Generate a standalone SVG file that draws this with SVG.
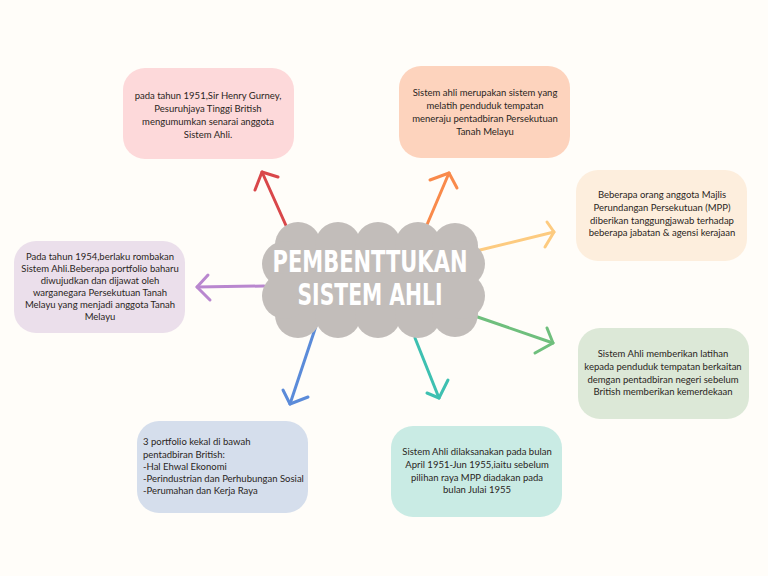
<svg xmlns="http://www.w3.org/2000/svg" width="768" height="576" viewBox="0 0 768 576">
<style>
.bx{stroke:none}
.t{font-family:Lato,"Open Sans",sans-serif;font-size:9.5px;fill:#2a2522;text-anchor:middle}
.tl{text-anchor:start}
.ttl{font-family:"DejaVu Sans Condensed","DejaVu Sans",sans-serif;font-weight:bold;font-size:30px;fill:#ffffff;text-anchor:middle}
.a{fill:none;stroke-width:3;stroke-linecap:round;stroke-linejoin:round}
</style>
<rect width="768" height="576" fill="#fffdf9"/>
<g id="connectors">
<g class="a" stroke="#d9474a"><path d="M288 230 L262 172"/><path d="M255 190 L262 172 L278 177"/></g>
<g class="a" stroke="#f98a4b"><path d="M426 227 L449 173"/><path d="M430 180 L449 173 L457 188"/></g>
<g class="a" stroke="#fdcb80"><path d="M480 250 L554 232"/><path d="M547 222 L554 232 L545 247"/></g>
<g class="a" stroke="#6fbf7d"><path d="M466 313 L553 343"/><path d="M547 328 L553 343 L535 353"/></g>
<g class="a" stroke="#3ec0b1"><path d="M415 338 L439 398"/><path d="M427 393 L439 398 L448 380"/></g>
<g class="a" stroke="#5b8bd9"><path d="M316 326 L290 404"/><path d="M283 390 L290 404 L308 397"/></g>
<g class="a" stroke="#b987cf"><path d="M264 286 L197 287"/><path d="M208 275 L197 287 L210 300"/></g>
</g>
<g id="center">
<g fill="#c2bdba">
<rect x="285" y="245" width="177" height="70"/>
<circle cx="298" cy="245" r="23"/><circle cx="338" cy="245" r="23"/><circle cx="378" cy="245" r="23"/><circle cx="418" cy="245" r="23"/><circle cx="455" cy="246" r="23"/>
<circle cx="298" cy="315" r="23"/><circle cx="338" cy="315" r="23"/><circle cx="378" cy="315" r="23"/><circle cx="418" cy="315" r="23"/><circle cx="455" cy="314" r="23"/>
<circle cx="285" cy="264" r="23"/><circle cx="285" cy="296" r="23"/>
<circle cx="462" cy="264" r="23"/><circle cx="462" cy="296" r="23"/>
</g>
<text class="ttl" x="370" y="272" textLength="195" lengthAdjust="spacingAndGlyphs">PEMBENTTUKAN</text>
<text class="ttl" x="370" y="305" textLength="145" lengthAdjust="spacingAndGlyphs">SISTEM AHLI</text>
</g>
<g id="n1">
<rect class="bx" x="123" y="68" width="171" height="91" rx="22" fill="#fdd9da"/>
<text class="t" x="208"><tspan x="208" y="99">pada tahun 1951,Sir Henry Gurney,</tspan><tspan x="208" y="112">Pesuruhjaya Tinggi British</tspan><tspan x="208" y="125">mengumumkan senarai anggota</tspan><tspan x="208" y="138">Sistem Ahli.</tspan></text>
</g>
<g id="n2">
<rect class="bx" x="399" y="66" width="171" height="92" rx="22" fill="#fdd3bd"/>
<text class="t"><tspan x="485" y="96">Sistem ahli merupakan sistem yang</tspan><tspan x="485" y="109">melatih penduduk tempatan</tspan><tspan x="485" y="122">meneraju pentadbiran Persekutuan</tspan><tspan x="485" y="135">Tanah Melayu</tspan></text>
</g>
<g id="n3">
<rect class="bx" x="576" y="170" width="171" height="91" rx="22" fill="#fdeedd"/>
<text class="t"><tspan x="662" y="198">Beberapa orang anggota Majlis</tspan><tspan x="662" y="211">Perundangan Persekutuan (MPP)</tspan><tspan x="662" y="224">diberikan tanggungjawab terhadap</tspan><tspan x="662" y="236">beberapa jabatan &amp; agensi kerajaan</tspan></text>
</g>
<g id="n4">
<rect class="bx" x="578" y="328" width="171" height="91" rx="22" fill="#dce8d7"/>
<text class="t"><tspan x="663" y="357">Sistem Ahli memberikan latihan</tspan><tspan x="663" y="370">kepada penduduk tempatan berkaitan</tspan><tspan x="663" y="383">demgan pentadbiran negeri sebelum</tspan><tspan x="663" y="395">British memberikan kemerdekaan</tspan></text>
</g>
<g id="n5">
<rect class="bx" x="391" y="426" width="171" height="91" rx="22" fill="#c9ebe4"/>
<text class="t"><tspan x="477" y="455">Sistem Ahli dilaksanakan pada bulan</tspan><tspan x="477" y="468">April 1951-Jun 1955,iaitu sebelum</tspan><tspan x="477" y="481">pilihan raya MPP diadakan pada</tspan><tspan x="477" y="493">bulan Julai 1955</tspan></text>
</g>
<g id="n6">
<rect class="bx" x="137" y="421" width="171" height="92" rx="22" fill="#d5deec"/>
<text class="t tl"><tspan x="143" y="445">3 portfolio kekal di bawah</tspan><tspan x="143" y="458">pentadbiran British:</tspan><tspan x="143" y="470">-Hal Ehwal Ekonomi</tspan><tspan x="143" y="482">-Perindustrian dan Perhubungan Sosial</tspan><tspan x="143" y="494">-Perumahan dan Kerja Raya</tspan></text>
</g>
<g id="n7">
<rect class="bx" x="14" y="241" width="171" height="92" rx="22" fill="#ebdfeb"/>
<text class="t"><tspan x="100" y="260">Pada tahun 1954,berlaku rombakan</tspan><tspan x="100" y="272">Sistem Ahli.Beberapa portfolio baharu</tspan><tspan x="100" y="284">diwujudkan dan dijawat oleh</tspan><tspan x="100" y="296">warganegara Persekutuan Tanah</tspan><tspan x="100" y="308">Melayu yang menjadi anggota Tanah</tspan><tspan x="100" y="320">Melayu</tspan></text>
</g>
</svg>
